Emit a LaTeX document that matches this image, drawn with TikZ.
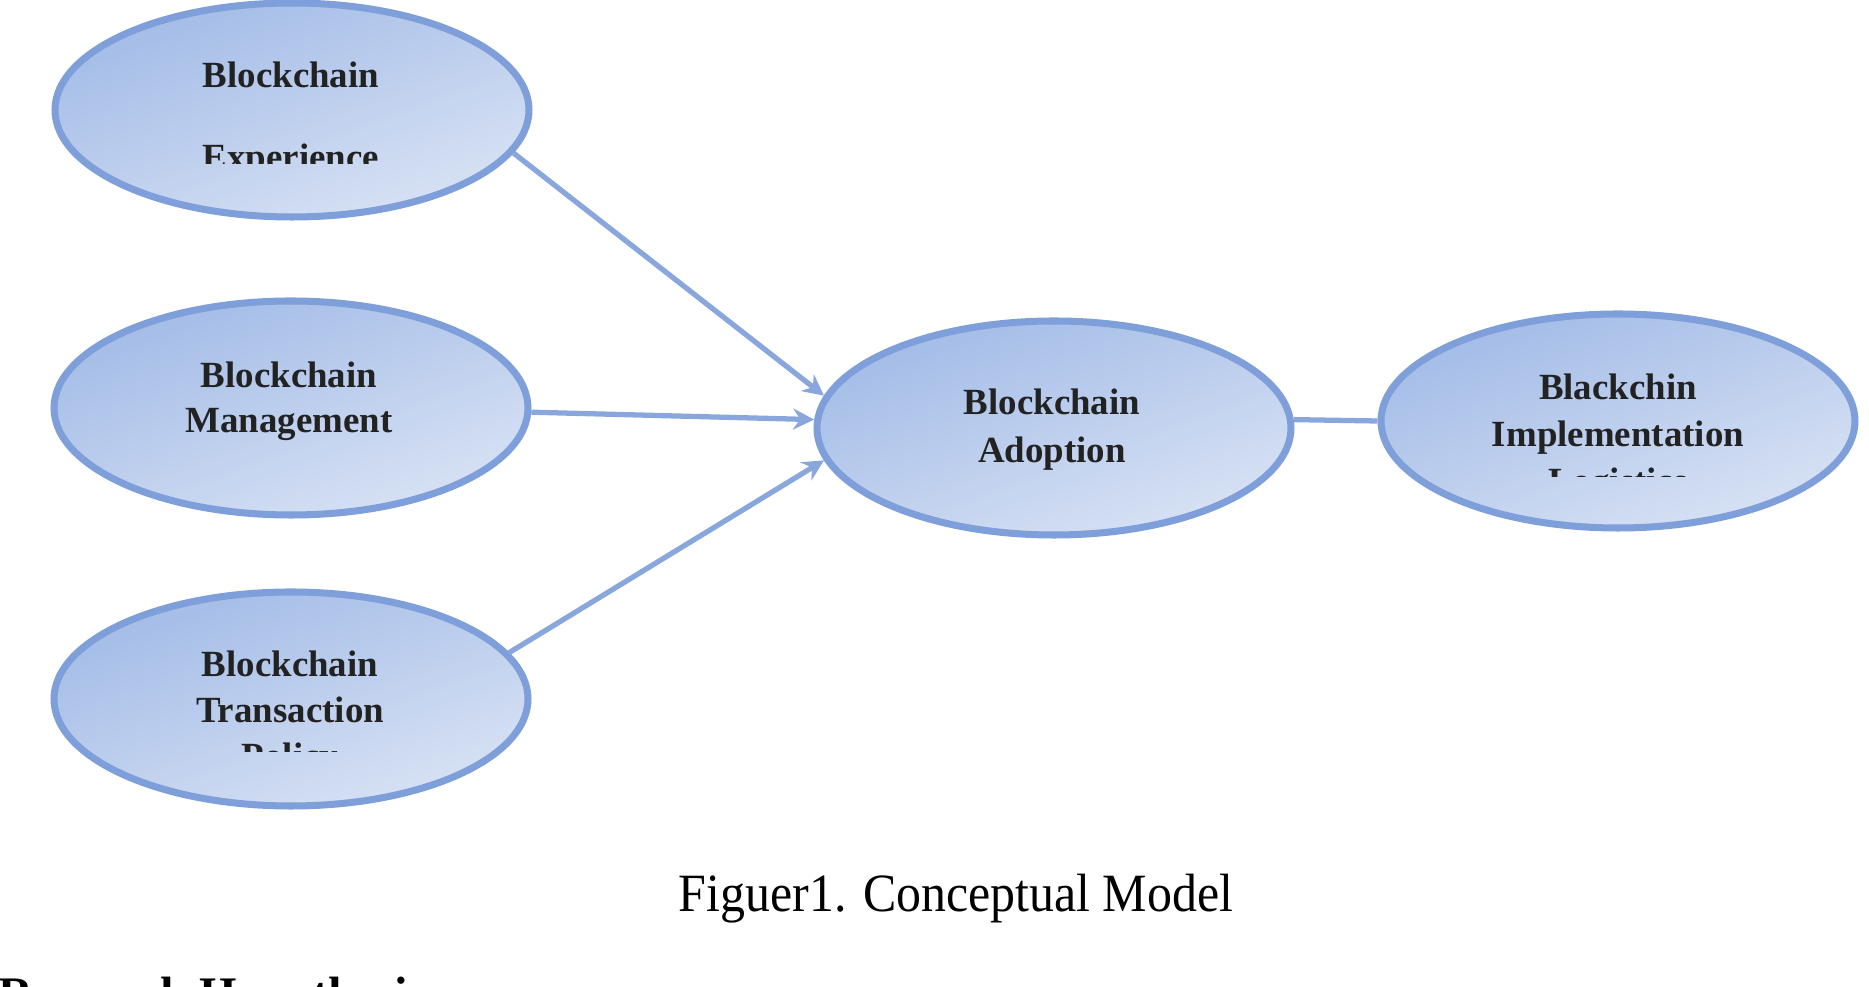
\documentclass[tikz,border=0pt]{standalone}
\usepackage{fontspec}
\setmainfont{Liberation Serif}
\usetikzlibrary{shapes.geometric,arrows.meta}
\definecolor{edgeblue}{HTML}{7F9FDA}
\definecolor{lineblue}{HTML}{89A7DD}
\definecolor{filltop}{HTML}{A2BBE7}
\definecolor{fillbot}{HTML}{D8E2F4}
\definecolor{inkgray}{HTML}{222222}
\tikzset{
  concept/.style={ellipse, draw=edgeblue, line width=2pt,
    top color=filltop, bottom color=fillbot, shading angle=20,
    minimum width=4.74cm, minimum height=2.14cm, inner sep=0pt},
  lbl/.style={font=\fontsize{10.5}{12}\selectfont\bfseries, text=inkgray,
    anchor=base, inner sep=0pt},
  link/.style={draw=lineblue, line width=1.5pt},
  arr/.style={link, -{Stealth[length=6pt,width=6pt,inset=2pt]}},
}
\begin{document}
\begin{tikzpicture}
\useasboundingbox (0,0) rectangle (18.69,9.87);
\clip (0,0) rectangle (18.69,9.87);

% ellipses
\node[concept] (exp) at (2.92,8.77) {};
\node[concept] (man) at (2.91,5.79) {};
\node[concept] (tra) at (2.91,2.88) {};
\node[concept] (ado) at (10.54,5.59) {};
\node[concept] (imp) at (16.18,5.66) {};

% labels
\node[lbl] (expA) at (2.91,8.99) {Blockchain};
\begin{scope}
  \clip (0.5,8.23) rectangle (5.3,9.5);
  \node[lbl] (expB) at (2.91,8.17) {Experience};
\end{scope}

\node[lbl] (manA) at (2.89,5.99) {Blockchain};
\node[lbl] (manB) at (2.89,5.54) {Management};

\node[lbl] (traA) at (2.90,3.10) {Blockchain};
\node[lbl] (traB) at (2.90,2.64) {Transaction};
\begin{scope}
  \clip (0.5,2.35) rectangle (5.3,2.6);
  \node[lbl] (traC) at (2.90,2.18) {Policy};
\end{scope}

\node[lbl] (adoA) at (10.52,5.72) {Blockchain};
\node[lbl] (adoB) at (10.52,5.24) {Adoption};

\node[lbl] (impA) at (16.18,5.87) {Blackchin};
\node[lbl] (impB) at (16.18,5.40) {Implementation};
\begin{scope}
  \clip (14.0,5.10) rectangle (18.4,5.35);
  \node[lbl] (impC) at (16.18,4.93) {Logistics};
\end{scope}

% connectors
\draw[arr] (exp.-11) -- (ado.172);
\draw[arr] (man.-1) -- (ado.178);
\draw[arr] (tra.12) -- (ado.188);
\draw[link] (ado.2) -- (imp.180);

% caption
\node[font=\fontsize{14.2}{17}\selectfont, anchor=base, inner sep=0pt] (cap) at (9.56,0.75)
  {\scalebox{1}[1.08]{Figuer1. Conceptual Model}};
\node[font=\fontsize{13.7}{16}\selectfont\bfseries, anchor=base west, inner sep=0pt] (rh) at (-0.02,-0.24)
  {Research Hypothesis};
\end{tikzpicture}
\end{document}
